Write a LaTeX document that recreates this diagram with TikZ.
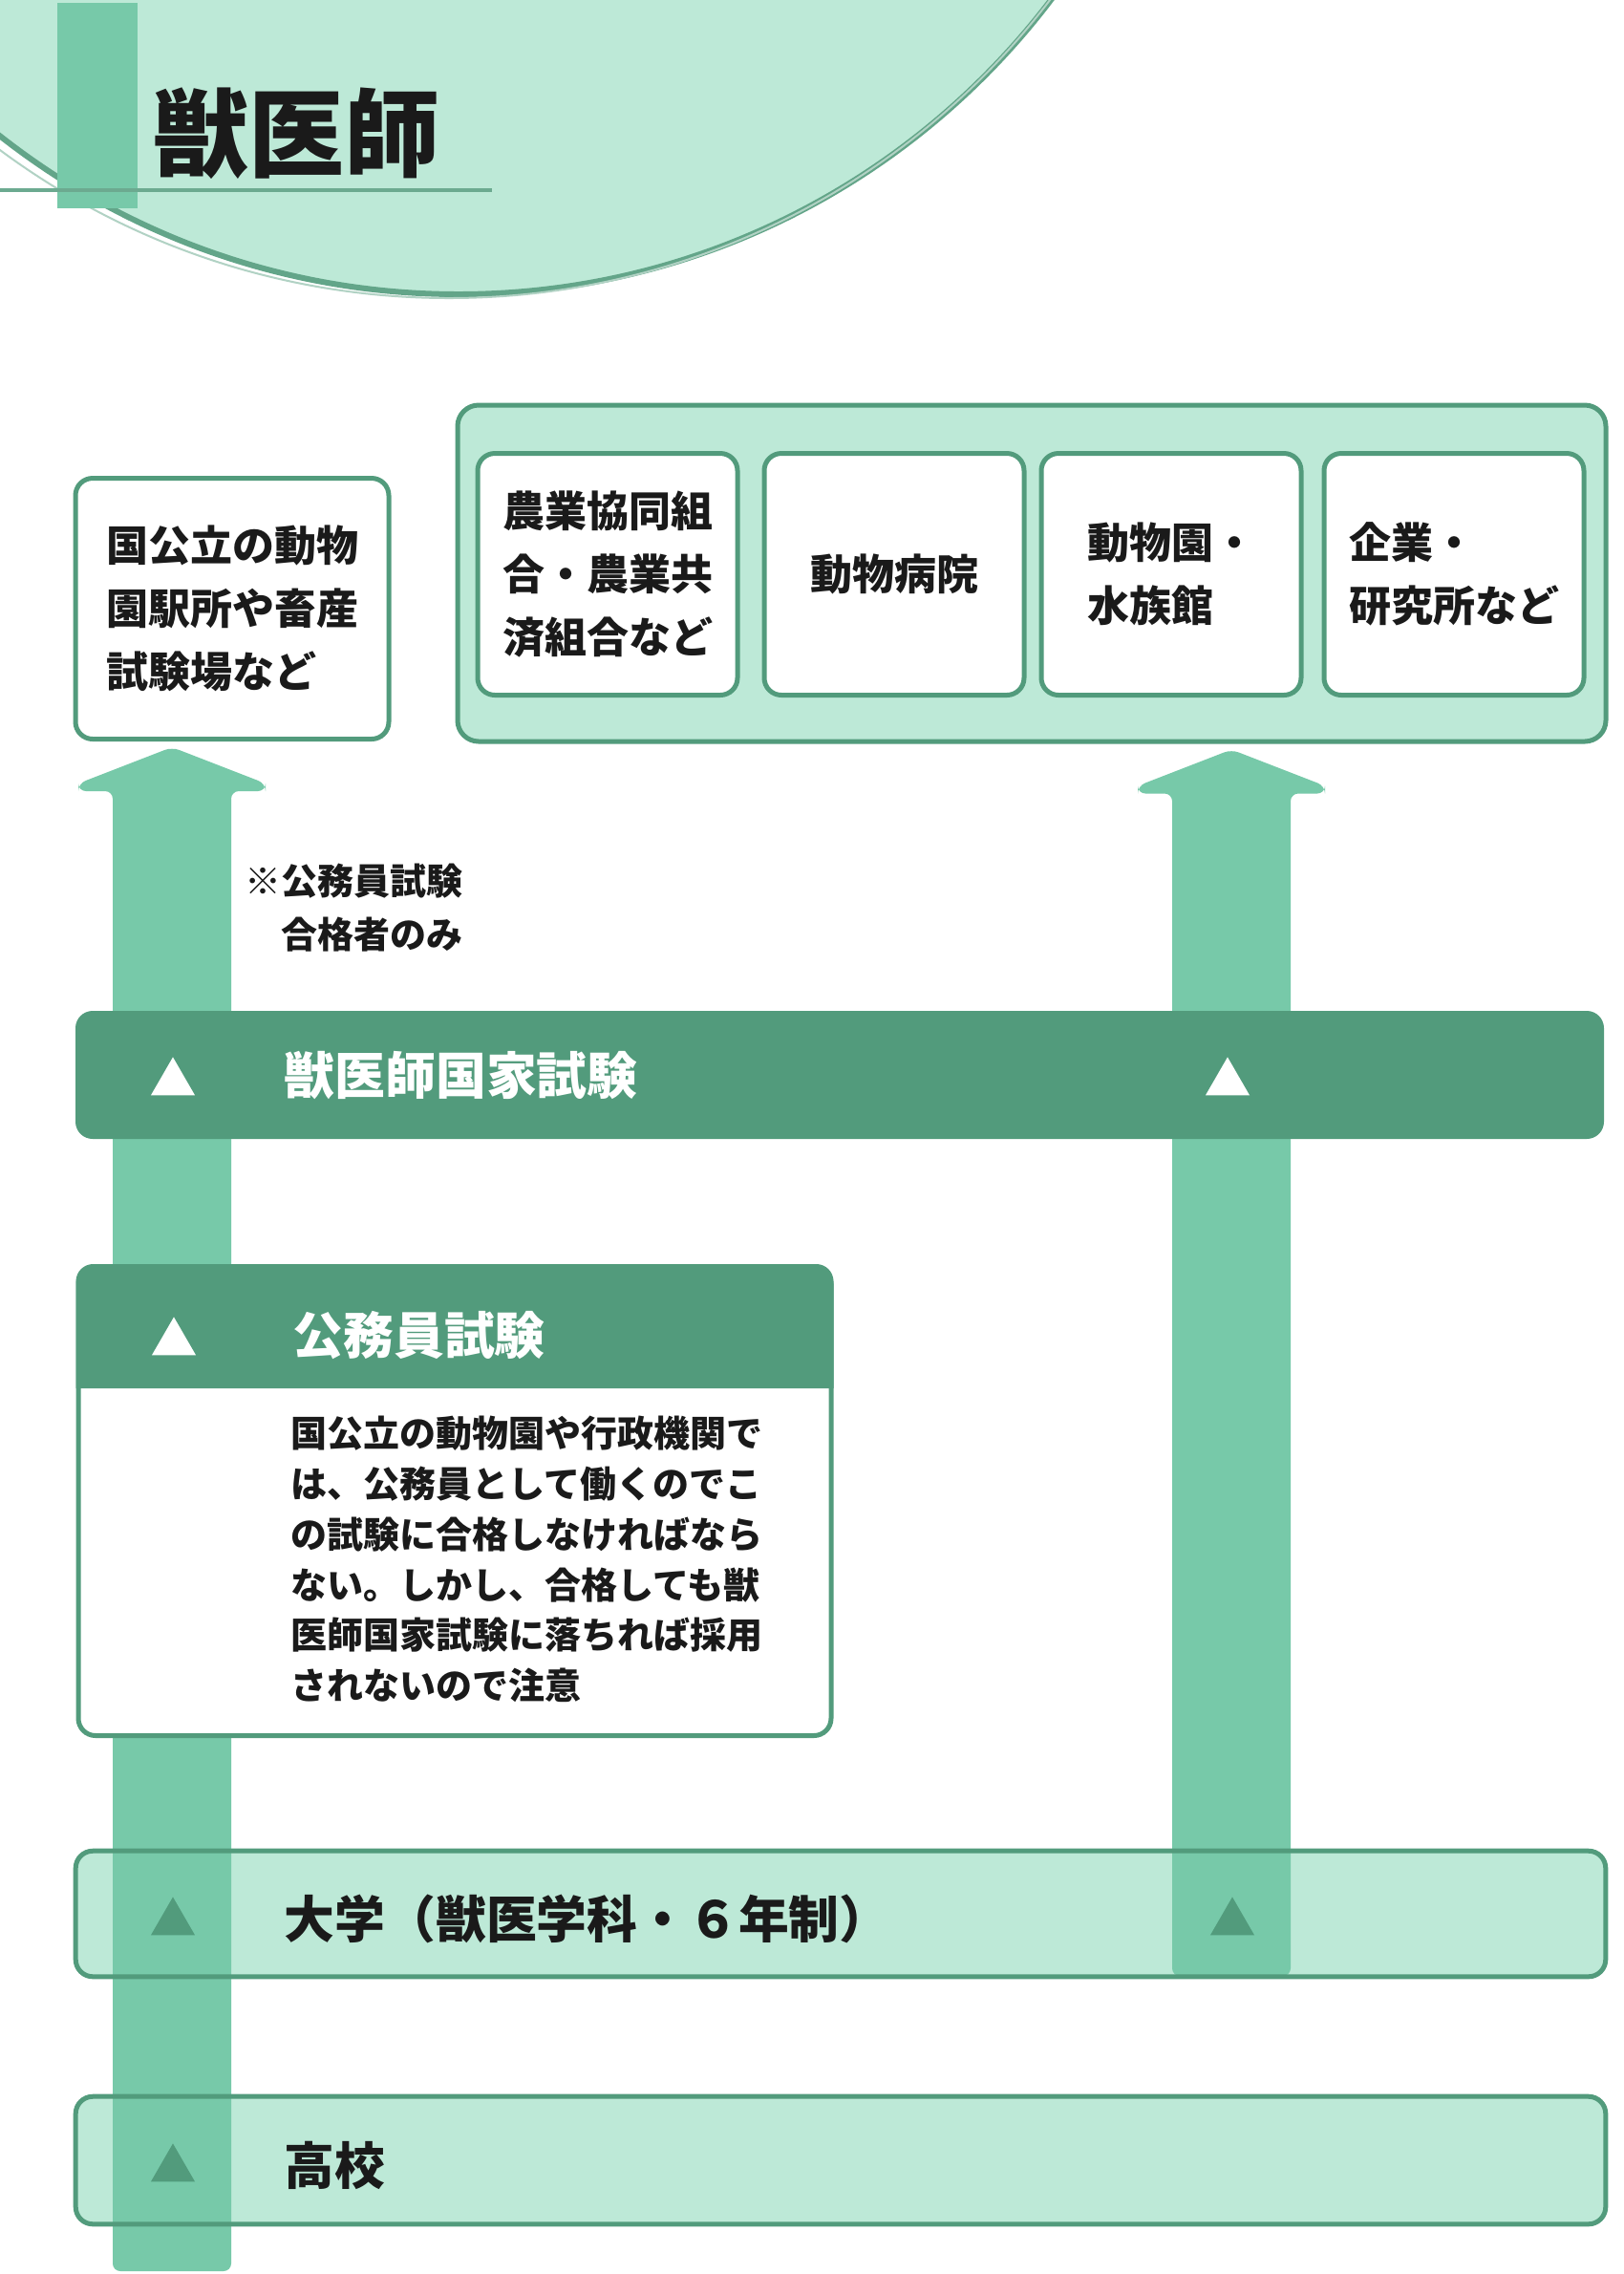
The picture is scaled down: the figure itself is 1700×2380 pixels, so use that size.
\documentclass[tikz,border=0pt]{standalone}
\usepackage{fontspec}
\newfontfamily\jp{Noto Sans CJK JP}
\usetikzlibrary{calc, shapes.geometric}

\definecolor{mint}{HTML}{BDE9D7}
\definecolor{shaftc}{HTML}{77C9A9}
\definecolor{deep}{HTML}{529B7C}
\definecolor{ink}{HTML}{1A1A1A}

\tikzset{
  card/.style={draw=deep, line width=1.25pt, fill=white, rounded corners=4.5pt, inner sep=0pt,
    align=left, text=ink, font=\jp\bfseries\fontsize{11pt}{16.5pt}\selectfont},
  panel/.style={draw=deep, line width=1.25pt, fill=mint, rounded corners=5.5pt, inner sep=0pt},
  band/.style={rounded corners=4.5pt, inner sep=0pt, minimum width=400pt},
  tri/.style={regular polygon, regular polygon sides=3, minimum size=13.3pt, inner sep=0pt},
  bandtext/.style={anchor=west, inner sep=0pt, font=\jp\bfseries\fontsize{13.2pt}{16pt}\selectfont},
  smalltext/.style={anchor=west, align=left, inner sep=0pt, text=ink,
    font=\jp\bfseries\fontsize{9.5pt}{13.2pt}\selectfont},
}

% block arrow from a foot coordinate up to a tip coordinate
\newcommand\blockarrow[2]{%
  \fill[shaftc, rounded corners=2pt] ($(#1)+(-62,0)$) -- ($(#2)+(-62,52)$) -- ($(#2)+(-98,52)$)
    -- ($(#2)+(-98,44)$) -- ($(#2)+(0,6)$) -- ($(#2)+(98,44)$) -- ($(#2)+(98,52)$)
    -- ($(#2)+(62,52)$) -- ($(#1)+(62,0)$) -- cycle;}

\begin{document}
\begin{tikzpicture}[x=0.25pt, y=-0.25pt]
  \useasboundingbox (0,0) rectangle (1700,2380);
  \fill[white] (0,0) rectangle (1700,2380);

  % header
  \begin{scope}
    \clip (0,0) rectangle (1700,2380);
    \fill[mint] (480,-470) circle[radius=776];
    \draw[deep!90, line width=1.5pt] (480,-470) circle[radius=778];
    \draw[deep!45, line width=0.5pt] (470,-478) circle[radius=790];
  \end{scope}
  \fill[shaftc] (60,3) rectangle (144,218);
  \draw[deep!85, line width=1pt] (0,199) -- (515,199);
  \node[anchor=west, inner sep=0pt, text=ink, font=\jp\bfseries\fontsize{25pt}{25pt}\selectfont]
    (title) at (160,140) {獣医師};

  % workplaces
  \node[card, minimum width=82pt, minimum height=68.25pt] (lbox) at (243,637)
    {国公立の動物\\園駅所や畜産\\試験場など};
  \node[panel, minimum width=300.5pt, minimum height=88pt] (jobs) at (1080,600) {};
  \foreach \n/\cx/\txt in {noukyou/636/{農業協同組\\合・農業共\\済組合など},
      byouin/936/{動物病院}, zoo/1226/{動物園・\\水族館}, kigyou/1522/{企業・\\研究所など}}
    \node[card, minimum width=68pt, minimum height=63.25pt] (\n) at (\cx,601) {\txt};

  % bands under the arrows
  \node[band, fill=mint, minimum height=32.5pt] (univ) at (880,2003) {};
  \node[band, fill=mint, minimum height=33pt] (high) at (880,2261) {};

  % arrows
  \coordinate (lfoot) at (180,2377);
  \coordinate (ltip) at (lbox.south -| lfoot);
  \blockarrow{lfoot}{ltip}
  \coordinate (rfoot) at (1289,2068);
  \coordinate (rtip) at (jobs.south -| rfoot);
  \blockarrow{rfoot}{rtip}

  \draw[deep, line width=1.25pt, rounded corners=4.5pt] (univ.north west) rectangle (univ.south east);
  \draw[deep, line width=1.25pt, rounded corners=4.5pt] (high.north west) rectangle (high.south east);

  % exams
  \node[band, fill=deep, minimum height=33.5pt] (kokushi) at (879,1125) {};
  \node[card, minimum width=197pt, minimum height=122.75pt] (koumu) at (476,1571) {};
  \fill[deep] ($(koumu.north west)+(0,130)$) {[rounded corners=4.5pt] -- (koumu.north west)
    -- (koumu.north east)} -- ($(koumu.north east)+(0,130)$) -- cycle;

  \foreach \p/\c in {{181,1133}/white, {1285,1133}/white, {182,1405}/white,
      {181,2012}/deep, {1290,2012}/deep, {181,2270}/deep}
    \node[tri, fill=\c] at (\p) {};

  \node[bandtext, text=white] (kokushitxt) at (297,1126) {獣医師国家試験};
  \node[bandtext, text=white] (koumutxt) at (306,1398) {公務員試験};
  \node[smalltext] (koumubody) at (304,1632)
    {国公立の動物園や行政機関で\\は、公務員として働くのでこ\\の試験に合格しなければなら\\ない。しかし、合格しても獣\\医師国家試験に落ちれば採用\\されないので注意};
  \node[bandtext, text=ink] (univtxt) at (297,2008) {大学（獣医学科・６年制）};
  \node[bandtext, text=ink] (hightxt) at (297,2266) {高校};
  \node[smalltext, font=\jp\bfseries\fontsize{9.5pt}{14pt}\selectfont] (note) at (256,950)
    {※公務員試験\\\hspace*{1em}合格者のみ};
\end{tikzpicture}
\end{document}
